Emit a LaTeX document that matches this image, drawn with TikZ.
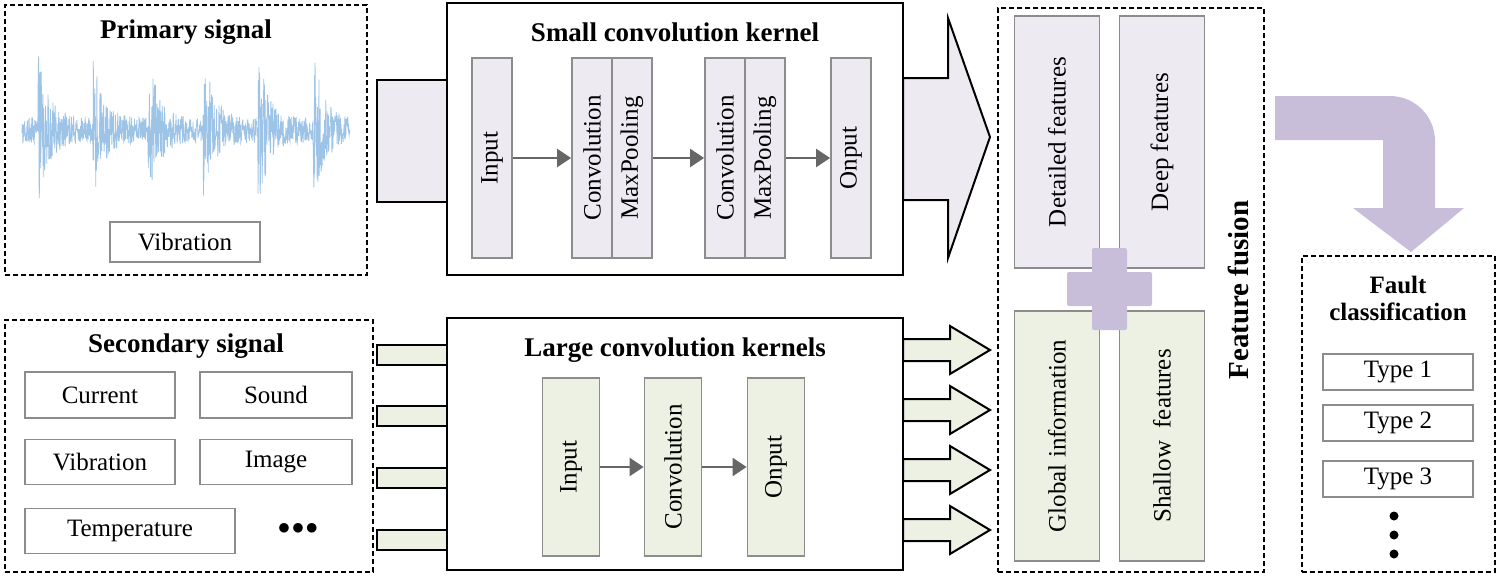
\documentclass[tikz,border=0pt]{standalone}
\usepackage{fontspec}
\setmainfont{Liberation Serif}
\usetikzlibrary{arrows.meta}
\definecolor{pur}{HTML}{EEEAF2}
\definecolor{grn}{HTML}{EDF1E3}
\definecolor{edge}{HTML}{8C8C8C}
\definecolor{bigpur}{HTML}{C9BEDA}
\definecolor{wave}{HTML}{9DC3E6}
\begin{document}
\begin{tikzpicture}[x=1pt,y=-1pt,
  dbox/.style={draw,line width=2pt,dash pattern=on 5pt off 3pt},
  solidbox/.style={draw,line width=2.5pt},
  lbl/.style={draw=edge,line width=1.8pt,font=\fontsize{25}{27}\selectfont,inner sep=0pt},
  col/.style={draw=edge,line width=1.8pt,rotate=90,inner sep=0pt,font=\fontsize{25}{27}\selectfont},
  ttl/.style={font=\fontsize{27}{29}\selectfont\bfseries},
  flow/.style={draw=gray!80!black,line width=2.5pt,-{Triangle[length=14pt,width=18pt]}},
  blk/.style={draw,line width=2pt}]
\useasboundingbox (0,0) rectangle (1500,579);
% Primary signal
\node[dbox,minimum width=362pt,minimum height=270pt] (prim) at (186,140) {};
\node[ttl] (pt) at (186,32) {Primary signal};
\pgfmathsetseed{7}
\draw[wave,line width=0.8pt] plot[domain=22:350,samples=1100] (\x,{130+(12+70*exp(-mod(\x-38+55,55)/10))*rand});
\node[lbl,minimum width=150pt,minimum height=40pt] (vib) at (185,242) {Vibration};
% Secondary signal
\node[dbox,minimum width=368pt,minimum height=252pt] (sec) at (189,446) {};
\node[ttl] (st) at (186,346) {Secondary signal};
\node[lbl,minimum width=150pt,minimum height=46pt] (cur) at (100,395) {Current};
\node[lbl,minimum width=152pt,minimum height=46pt] (snd) at (276,395) {Sound};
\node[lbl,minimum width=150pt,minimum height=45pt] (vib2) at (100,462) {Vibration};
\node[lbl,minimum width=152pt,minimum height=45pt] (img) at (276,462) {Image};
\node[lbl,minimum width=210pt,minimum height=45pt] (temp) at (130,531) {Temperature};
\node[font=\fontsize{32}{32}\selectfont] (dots) at (298,529) {$\bullet\!\bullet\!\bullet$};
% Small kernel
\draw[blk,fill=pur] (377,80) rectangle (447,202);
\node[solidbox,minimum width=456pt,minimum height=272pt,fill=white] (sk) at (675,139) {};
\node[ttl] at (675,32) {Small convolution kernel};
\draw[blk,fill=pur] (903,78) -- (948,78) -- (948,18) -- (990,137) -- (948,258) -- (948,200) -- (903,200) -- cycle;
\foreach \n/\x/\t in {i1/492/Input,c1/592/Convolution,m1/632/MaxPooling,c2/725/Convolution,m2/765/MaxPooling,o1/851/Onput}
  \node[col,fill=pur,minimum width=200pt,minimum height=40pt] (\n) at (\x,158) {\t};
\draw[flow] (i1.south) -- (c1.north);
\draw[flow] (m1.south) -- (c2.north);
\draw[flow] (m2.south) -- (o1.north);
% Large kernel
\foreach \y in {355,416,478,540} \draw[blk,fill=grn] (377,\y-10) rectangle (447,\y+10);
\node[solidbox,minimum width=456pt,minimum height=252pt,fill=white] (lk) at (675,444) {};
\node[ttl] at (675,350) {Large convolution kernels};
\foreach \y in {350,410,470,530}
  \draw[blk,fill=grn] (903,\y-11) -- (950,\y-11) -- (950,\y-24) -- (990,\y) -- (950,\y+24) -- (950,\y+11) -- (903,\y+11) -- cycle;
\foreach \n/\x/\t in {i2/571/Input,c3/673/Convolution,o2/776/Onput}
  \node[col,fill=grn,minimum width=178pt,minimum height=57pt] (\n) at (\x,467) {\t};
\draw[flow] (i2.south) -- (c3.north);
\draw[flow] (c3.south) -- (o2.north);
% Feature fusion
\node[dbox,minimum width=266pt,minimum height=564pt] (ff) at (1131,290) {};
\node[col,fill=pur,minimum width=252pt,minimum height=85pt] (det) at (1057,142) {Detailed features};
\node[col,fill=pur,minimum width=252pt,minimum height=85pt] (deep) at (1162,142) {Deep features};
\node[col,fill=grn,minimum width=250pt,minimum height=85pt] (glob) at (1057,436) {Global information};
\node[col,fill=grn,minimum width=250pt,minimum height=85pt] (shal) at (1162,436) {Shallow\ \ features};
\fill[bigpur,rounded corners=2pt] (1092,248) rectangle (1127,330);
\fill[bigpur,rounded corners=2pt] (1067,272) rectangle (1152,306);
\node[rotate=90,font=\fontsize{29}{30}\selectfont\bfseries] (fft) at (1238,290) {Feature fusion};
% curved arrow
\fill[bigpur] (1275,96) -- (1390,96) arc[start angle=-90,end angle=0,radius=45] -- (1435,208) -- (1464,208) -- (1411,252) -- (1353,208) -- (1383,208) -- (1383,140) -- (1275,140) -- cycle;
% Fault classification
\node[dbox,minimum width=193pt,minimum height=316pt] (fc) at (1398,414) {};
\node[ttl,align=center,font=\fontsize{25}{27}\selectfont\bfseries] at (1398,298) {Fault\\classification};
\node[lbl,minimum width=150pt,minimum height=36pt] (t1) at (1398,372) {Type 1};
\node[lbl,minimum width=150pt,minimum height=36pt] (t2) at (1398,423) {Type 2};
\node[lbl,minimum width=150pt,minimum height=36pt] (t3) at (1398,479) {Type 3};
\foreach \y in {516,535,554} \fill (1394,\y) circle (4.5pt);
\end{tikzpicture}
\end{document}
